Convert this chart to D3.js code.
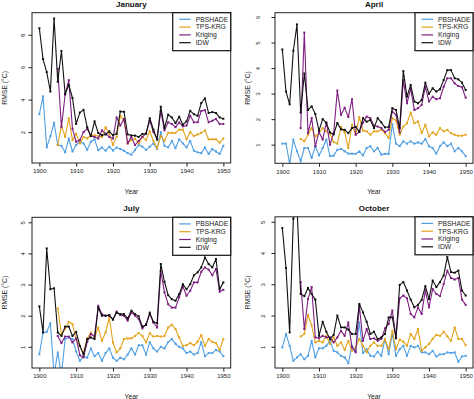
<!DOCTYPE html>
<html>
<head>
<meta charset="utf-8">
<script src="https://cdn.jsdelivr.net/npm/d3@7"></script>
<style>
  html, body { margin: 0; padding: 0; background: #fff; }
  svg { display: block; font-family: "Liberation Sans", Arial, sans-serif; }
</style>
</head>
<body>
<svg id="chart" width="474" height="399"></svg>
<script>
// ---------------- DATA ----------------

const years = d3.range(1900, 1951);
const seriesNames = ["PBSHADE", "TPS-KRG", "Kriging", "IDW"];
const xTicks = [1900, 1910, 1920, 1930, 1940, 1950];

const _ = null; // no value for that year

const janPBSHADE = [3.1, 4.2, 1.05, 1.75, 2.57, 1.2, 1.15, 0.75, 1.6, 0.8, 1.2, 1.4, 1.3, 0.9, 1.4, 1.55, 0.88, 1.05, 0.85, 1.1, 0.85, 1.05, 0.95, 0.85, 0.7, 0.6, 0.9, 1.2, 1.1, 0.9, 1.1, 1.3, 0.95, 2.0, 1.15, 1.05, 1.45, 1.0, 1.55, 1.3, 1.05, 1.45, 0.85, 0.75, 0.7, 1.05, 0.65, 0.95, 0.8, 0.65, 1.15];
const janTPSKRG = [_, _, _, _, _, 1.2, 2.4, 1.7, 2.85, 1.5, 1.9, 1.3, 1.7, 1.6, 1.8, 1.8, 1.75, 1.7, 2.3, 1.9, 1.2, 1.7, 3.0, 2.7, 1.3, 1.5, 1.6, 1.3, 1.7, 1.5, 2.05, 1.45, 1.0, 1.75, 1.45, 1.95, 1.95, 1.95, 2.15, 2.15, 1.55, 2.0, 1.75, 1.85, 1.95, 2.1, 1.55, 1.55, 1.55, 1.35, 1.6];
const janKriging = [_, _, _, _, _, 5.9, 2.3, 4.3, 5.2, 2.2, 1.4, 1.5, 2.0, 2.2, 1.75, 1.7, 1.6, 2.1, 1.9, 1.7, 1.6, 2.9, 2.4, 2.8, 1.3, 1.7, 1.2, 1.45, 1.7, 1.9, 2.7, 2.0, 1.6, 3.3, 2.1, 2.6, 2.5, 2.3, 2.6, 2.35, 2.4, 3.0, 2.6, 2.6, 3.3, 3.35, 2.6, 2.7, 2.8, 2.5, 2.5];
const janIDW = [8.4, 6.5, 5.7, 4.5, 9.0, 5.1, 7.0, 4.35, 4.9, 4.1, 2.5, 3.2, 3.37, 2.3, 1.75, 2.66, 1.94, 1.8, 1.85, 2.04, 1.8, 1.9, 3.27, 3.25, 1.85, 1.8, 1.78, 1.7, 1.88, 1.9, 2.85, 2.14, 1.53, 3.56, 2.25, 3.07, 2.9, 2.55, 2.94, 2.45, 2.66, 3.31, 3.1, 3.0, 3.79, 4.07, 3.17, 3.23, 3.17, 2.9, 2.82];

const aprPBSHADE = [1.04, 1.04, 0.25, 1.2, 0.74, 0.35, 0.87, 0.87, 0.48, 0.94, 0.58, 0.87, 1.2, 0.55, 0.57, 0.8, 0.83, 0.74, 0.65, 0.65, 0.64, 0.74, 0.58, 0.87, 0.94, 0.74, 0.87, 0.61, 0.64, 0.64, 1.8, 1.04, 0.94, 1.13, 1.04, 1.13, 1.04, 1.09, 1.04, 1.22, 0.94, 0.87, 0.65, 0.94, 1.09, 0.94, 1.04, 0.74, 0.87, 0.74, 0.55];
const aprTPSKRG = [_, _, _, _, _, 1.22, 1.13, 1.39, 1.65, 1.32, 1.45, 1.65, 1.52, 1.43, 1.1, 1.04, 1.69, 1.48, 0.87, 1.78, 1.39, 2.08, 1.55, 1.52, 1.39, 1.52, 1.52, 1.58, 1.45, 1.26, 2.04, 1.95, 1.39, 1.71, 1.84, 2.26, 1.84, 1.91, 1.45, 1.78, 1.32, 1.48, 1.39, 1.65, 1.52, 1.58, 1.45, 1.39, 1.35, 1.35, 1.39];
const aprKriging = [_, _, _, _, _, 1.65, 5.39, 1.45, 2.04, 0.94, 1.5, 1.2, 1.87, 1.0, 1.45, 3.12, 2.17, 2.45, 2.08, 2.78, 1.39, 1.5, 1.87, 2.1, 2.04, 1.74, 1.71, 1.65, 1.5, 1.58, 2.3, 2.17, 1.48, 3.53, 2.62, 3.2, 2.36, 2.43, 2.56, 3.27, 2.69, 2.88, 2.78, 2.82, 3.27, 3.6, 3.6, 3.4, 3.3, 3.25, 2.84];
const aprIDW = [4.73, 3.08, 2.58, 4.68, 5.71, 2.26, 3.79, 2.36, 2.5, 2.2, 1.55, 2.0, 1.85, 1.48, 1.4, 1.85, 1.6, 1.58, 1.45, 1.65, 1.7, 1.5, 2.04, 1.9, 1.97, 1.65, 2.04, 1.87, 1.68, 1.69, 2.43, 2.36, 1.65, 3.88, 2.88, 3.34, 2.69, 2.62, 2.75, 3.43, 2.99, 3.21, 3.08, 3.17, 3.53, 3.92, 3.92, 3.6, 3.56, 3.43, 3.14];

const julPBSHADE = [0.76, 1.46, 1.48, 1.76, 0.1, 0.82, 0.1, 1.25, 1.3, 1.25, 0.85, 0.55, 0.7, 0.65, 0.95, 0.7, 0.8, 0.55, 0.8, 0.95, 0.65, 0.55, 0.65, 0.6, 0.75, 0.95, 0.75, 1.05, 1.05, 0.75, 1.15, 0.95, 0.85, 1.0, 0.95, 1.15, 1.25, 1.1, 1.0, 0.95, 0.8, 0.85, 0.75, 0.8, 1.15, 0.7, 0.8, 0.8, 0.9, 0.85, 0.7];
const julTPSKRG = [_, _, _, _, _, 2.23, 1.41, 1.57, 1.8, 1.73, 1.25, 1.03, 0.79, 1.27, 1.46, 1.3, 1.62, 1.19, 1.46, 1.94, 1.14, 0.82, 0.95, 1.25, 1.27, 1.27, 1.35, 1.44, 1.35, 1.14, 1.44, 1.33, 1.35, 1.33, 1.35, 1.62, 1.71, 1.57, 1.3, 1.03, 1.05, 1.12, 1.05, 1.16, 1.38, 1.03, 1.25, 1.16, 1.12, 0.9, 1.25];
const julKriging = [_, _, _, _, _, 1.35, 1.12, 1.33, 1.33, 1.14, 1.27, 0.73, 0.66, 1.16, 1.41, 1.33, 2.32, 2.05, 2.0, 2.0, 1.89, 2.13, 2.02, 2.0, 1.84, 2.1, 2.0, 1.89, 1.59, 1.73, 2.05, 1.78, 1.62, 3.44, 2.75, 2.37, 2.26, 2.26, 2.59, 2.94, 2.64, 2.8, 3.07, 3.07, 3.41, 3.55, 3.48, 3.3, 3.5, 2.77, 2.83];
const julIDW = [2.3, 1.46, 4.16, 2.85, 2.88, 1.46, 1.35, 1.65, 1.65, 1.35, 1.48, 1.03, 0.76, 1.25, 1.3, 1.25, 2.26, 2.0, 2.0, 2.02, 1.87, 2.1, 2.05, 2.05, 1.91, 2.16, 2.05, 1.98, 1.65, 1.7, 2.1, 1.8, 1.76, 3.66, 3.09, 2.66, 2.53, 2.48, 2.69, 3.01, 2.85, 3.01, 3.3, 3.39, 3.55, 3.87, 3.66, 3.55, 3.82, 2.85, 3.07];

const octPBSHADE = [0.98, 1.41, 1.03, 0.55, 0.66, 0.76, 0.6, 0.71, 1.19, 0.66, 0.95, 0.95, 1.03, 1.19, 0.87, 0.82, 0.71, 0.66, 0.47, 1.03, 0.87, 1.78, 0.8, 0.92, 0.71, 0.69, 0.84, 0.71, 1.25, 0.76, 1.41, 0.71, 0.92, 1.03, 0.71, 1.03, 0.98, 1.03, 0.82, 0.82, 0.76, 0.87, 0.69, 0.76, 0.76, 0.82, 0.8, 0.82, 0.52, 0.69, 0.71];
const octTPSKRG = [_, _, _, _, _, 1.33, 1.41, 2.02, 1.68, 1.14, 1.19, 1.14, 1.35, 1.09, 1.3, 1.03, 1.14, 0.9, 1.19, 0.87, 0.98, 1.25, 1.03, 0.82, 1.03, 1.14, 1.03, 1.03, 1.25, 0.92, 1.51, 0.92, 1.23, 1.16, 1.03, 1.41, 1.25, 1.57, 0.87, 0.98, 1.09, 1.25, 1.38, 1.35, 1.48, 1.33, 1.19, 1.62, 1.25, 1.25, 1.05];
const octKriging = [_, _, _, _, _, 3.07, 1.57, 2.53, 2.91, 1.3, 1.27, 1.35, 1.3, 1.3, 1.14, 1.3, 1.51, 1.35, 1.78, 0.98, 0.82, 2.32, 1.19, 1.57, 1.25, 1.27, 1.19, 1.25, 1.59, 1.73, 2.16, 1.3, 2.55, 2.64, 2.55, 2.05, 1.94, 2.26, 2.05, 2.8, 2.26, 2.85, 2.69, 2.62, 3.01, 3.44, 3.2, 3.15, 3.2, 2.51, 2.34];
const octIDW = [4.8, 3.52, 1.46, 5.1, 5.5, 2.69, 2.62, 2.88, 2.69, 2.51, 1.35, 1.8, 1.48, 1.25, 1.38, 2.0, 1.62, 1.62, 1.55, 1.41, 1.41, 2.37, 2.1, 1.8, 1.41, 1.48, 1.25, 1.3, 1.41, 1.94, 1.94, 1.27, 2.98, 3.07, 2.8, 2.51, 2.26, 2.34, 2.5, 2.94, 2.53, 3.12, 2.91, 3.07, 3.28, 3.87, 3.39, 3.37, 3.44, 2.8, 2.64];

// ---------------- LAYOUT ----------------

const colors = { "PBSHADE": "#4f9fe3", "TPS-KRG": "#e3a21a", "Kriging": "#7e1e80", "IDW": "#111111" };

const panels = [
  { title: "January", series: [janPBSHADE, janTPSKRG, janKriging, janIDW],
    left: 32, right: 230.7, top: 12.7, bottom: 163, ydom: [0.09, 9.36], yTicks: [2, 4, 6, 8], yLabX: 24.5 },
  { title: "April", series: [aprPBSHADE, aprTPSKRG, aprKriging, aprIDW],
    left: 275, right: 473, top: 12.7, bottom: 163.3, ydom: [0.27, 6.17], yTicks: [1, 2, 3, 4, 5, 6], yLabX: 259.5 },
  { title: "July", series: [julPBSHADE, julTPSKRG, julKriging, julIDW],
    left: 32, right: 230.7, top: 217.3, bottom: 368, ydom: [0.32, 5.16], yTicks: [1, 2, 3, 4, 5], yLabX: 24.5 },
  { title: "October", series: [octPBSHADE, octTPSKRG, octKriging, octIDW],
    left: 275, right: 473, top: 216.8, bottom: 368, ydom: [0.32, 5.16], yTicks: [1, 2, 3, 4, 5], yLabX: 265 },
];

const svg = d3.select("#chart");

panels.forEach((p, i) => {
  const g = svg.append("g");

  const x = d3.scaleLinear().domain([1898, 1952]).range([p.left, p.right]);
  const y = d3.scaleLinear().domain(p.ydom).range([p.bottom, p.top]);

  const clipId = "clip" + i;
  g.append("clipPath").attr("id", clipId)
    .append("rect")
    .attr("x", p.left).attr("y", p.top)
    .attr("width", p.right - p.left).attr("height", p.bottom - p.top);

  // series lines + dots
  const plot = g.append("g").attr("clip-path", `url(#${clipId})`);
  const line = d3.line()
    .defined(d => d.v != null)
    .x(d => x(d.year))
    .y(d => y(d.v));

  p.series.forEach((vals, s) => {
    const name = seriesNames[s];
    const pts = years.map((year, k) => ({ year, v: vals[k] }));
    plot.append("path")
      .datum(pts)
      .attr("fill", "none")
      .attr("stroke", colors[name])
      .attr("stroke-width", 1.1)
      .attr("stroke-linejoin", "round")
      .attr("d", line);
    plot.append("g")
      .selectAll("rect")
      .data(pts.filter(d => d.v != null))
      .join("rect")
      .attr("x", d => x(d.year) - 1)
      .attr("y", d => y(d.v) - 1)
      .attr("width", 2).attr("height", 2)
      .attr("fill", colors[name]);
  });

  // box
  g.append("rect")
    .attr("x", p.left).attr("y", p.top)
    .attr("width", p.right - p.left).attr("height", p.bottom - p.top)
    .attr("fill", "none").attr("stroke", "#222").attr("stroke-width", 1);

  // x axis
  const xa = g.append("g")
    .attr("transform", `translate(0,${p.bottom})`)
    .call(d3.axisBottom(x).tickValues(xTicks).tickFormat(d3.format("d")).tickSize(3.5).tickPadding(2.5));
  xa.select(".domain").remove();
  xa.selectAll("line").attr("stroke", "#222");
  xa.selectAll("text").attr("font-size", 6).attr("fill", "#222").attr("font-family", null);

  // y axis
  const ya = g.append("g")
    .attr("transform", `translate(${p.left},0)`)
    .call(d3.axisLeft(y).tickValues(p.yTicks).tickSize(3.5).tickFormat(d3.format("d")));
  ya.select(".domain").remove();
  ya.selectAll("line").attr("stroke", "#222");
  ya.selectAll("text")
    .attr("font-size", 6).attr("fill", "#222").attr("font-family", null)
    .attr("text-anchor", "middle")
    .attr("dy", null)
    .attr("x", null)
    .attr("transform", `translate(${p.yLabX - p.left},0) rotate(-90)`);

  // title
  g.append("text")
    .attr("x", (p.left + p.right) / 2).attr("y", p.top - 6)
    .attr("text-anchor", "middle")
    .attr("font-size", 8).attr("font-weight", "bold").attr("fill", "#111")
    .text(p.title);

  // axis titles
  g.append("text")
    .attr("x", (p.left + p.right) / 2).attr("y", p.bottom + 31)
    .attr("text-anchor", "middle")
    .attr("font-size", 6.8).attr("fill", "#222")
    .text("Year");
  g.append("text")
    .attr("transform", `translate(${p.left - 25},${(p.top + p.bottom) / 2}) rotate(-90)`)
    .attr("text-anchor", "middle")
    .attr("font-size", 6.8).attr("fill", "#222")
    .text("RMSE (°C)");

  // legend
  const lg = g.append("g").attr("transform", `translate(${p.right - 58},${p.top})`);
  lg.append("rect")
    .attr("width", 58).attr("height", 38)
    .attr("fill", "#fff").attr("stroke", "#111").attr("stroke-width", 1.2);
  seriesNames.forEach((name, s) => {
    const ry = 6.6 + s * 7.8;
    lg.append("line")
      .attr("x1", 6.5).attr("x2", 18)
      .attr("y1", ry).attr("y2", ry)
      .attr("stroke", colors[name]).attr("stroke-width", 1.2);
    lg.append("text")
      .attr("x", 23).attr("y", ry + 2.4)
      .attr("font-size", 6.8).attr("fill", "#222")
      .text(name);
  });
});
</script>
</body>
</html>
